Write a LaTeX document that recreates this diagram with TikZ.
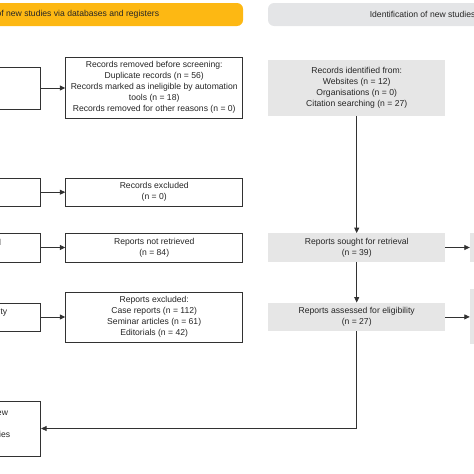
\documentclass[tikz,border=0pt]{standalone}
\usepackage{fontspec}
\setmainfont{Liberation Sans}
\usepackage{tikz}
\usetikzlibrary{arrows.meta}

\definecolor{headyellow}{RGB}{253,184,19}
\definecolor{headgray}{RGB}{228,229,231}
\definecolor{boxgray}{RGB}{230,230,230}
\definecolor{linegray}{RGB}{50,50,50}
\newcommand{\prismafont}{\fontsize{8.6}{11}\selectfont}

\begin{document}
\begin{tikzpicture}[x=1pt,y=1pt,yscale=-1,xscale=1,
    box/.style={draw=linegray, line width=0.8pt, fill=white, minimum width=177pt, align=center, inner sep=0pt, font=\prismafont, text=black!85},
    graybox/.style={fill=boxgray, minimum width=177pt, align=center, inner sep=0pt, font=\prismafont, text=black!85},
    head/.style={rounded corners=6pt, minimum height=23pt, inner sep=0pt, font=\prismafont, text=black!85},
    arr/.style={draw=linegray, line width=0.8pt, -{Triangle[length=5.5pt,width=5pt]}}]
        \useasboundingbox (0,0) rectangle (474,474);
        \clip (0,0) rectangle (474,474);

        \node [head, fill=headyellow, minimum width=381pt] (headdb) at (52.5,14.5) {Identification of new studies via databases and registers};
        \node [head, fill=headgray, minimum width=380pt] (headother) at (458,14.5) {Identification of new studies via other methods};

        \node [box, minimum width=183pt, minimum height=42pt] (identdb) at (-50.8,88) {};
        \node [box, minimum width=183pt, minimum height=28.3pt] (screened) at (-50.8,192.2) {};
        \node [box, minimum width=183pt, minimum height=29pt] (soughtdb) at (-50.8,247.5) {Reports sought for retrieval\\\mbox{}};
        \node [box, minimum width=183pt, minimum height=28pt] (assesseddb) at (-50.8,317) {Reports assessed for eligibility\\\mbox{}};
        \node [box, minimum width=183pt, minimum height=55pt] (included) at (-50.8,428.5) {New studies included in review\\\mbox{}\\Reports of new included studies\\\mbox{}};

        \node [box, minimum height=61.3pt] (removed) at (154.2,87.7) {Records removed before screening:\\Duplicate records (n = 56)\\Records marked as ineligible by automation\\tools (n = 18)\\Records removed for other reasons (n = 0)};
        \node [box, minimum height=28.3pt] (excluded) at (154.2,192.2) {Records excluded\\(n = 0)};
        \node [box, minimum height=29pt] (notretrieved) at (154.2,247.5) {Reports not retrieved\\(n = 84)};
        \node [box, minimum height=50.3pt] (reportsexcl) at (154.2,317.2) {Reports excluded:\\Case reports (n = 112)\\Seminar articles (n = 61)\\Editorials (n = 42)};

        \node [graybox, minimum height=55.4pt] (identother) at (356.7,88) {Records identified from:\\Websites (n = 12)\\Organisations (n = 0)\\Citation searching (n = 27)};
        \node [graybox, minimum height=28.4pt] (soughtother) at (356.7,247.5) {Reports sought for retrieval\\(n = 39)};
        \node [graybox, minimum height=28.3pt] (assessedother) at (356.7,316.9) {Reports assessed for eligibility\\(n = 27)};

        \node [graybox, minimum height=29pt] (notretother) at (558.5,247.5) {};
        \node [graybox, minimum height=55pt] (exclother) at (558.5,316.5) {};

        \draw [arr] (identdb.east) -- (identdb.east -| removed.west);
        \draw [arr] (screened.east) -- (excluded.west);
        \draw [arr] (soughtdb.east) -- (notretrieved.west);
        \draw [arr] (assesseddb.east) -- (reportsexcl.west |- assesseddb.east);
        \draw [arr] (identother.south) -- (soughtother.north);
        \draw [arr] (soughtother.south) -- (assessedother.north);
        \draw [arr] (soughtother.east) -- (notretother.west);
        \draw [arr] (assessedother.east) -- (exclother.west |- assessedother.east);
        \draw [arr] (assessedother.south) |- (included.east);
    \end{tikzpicture}
\end{document}
